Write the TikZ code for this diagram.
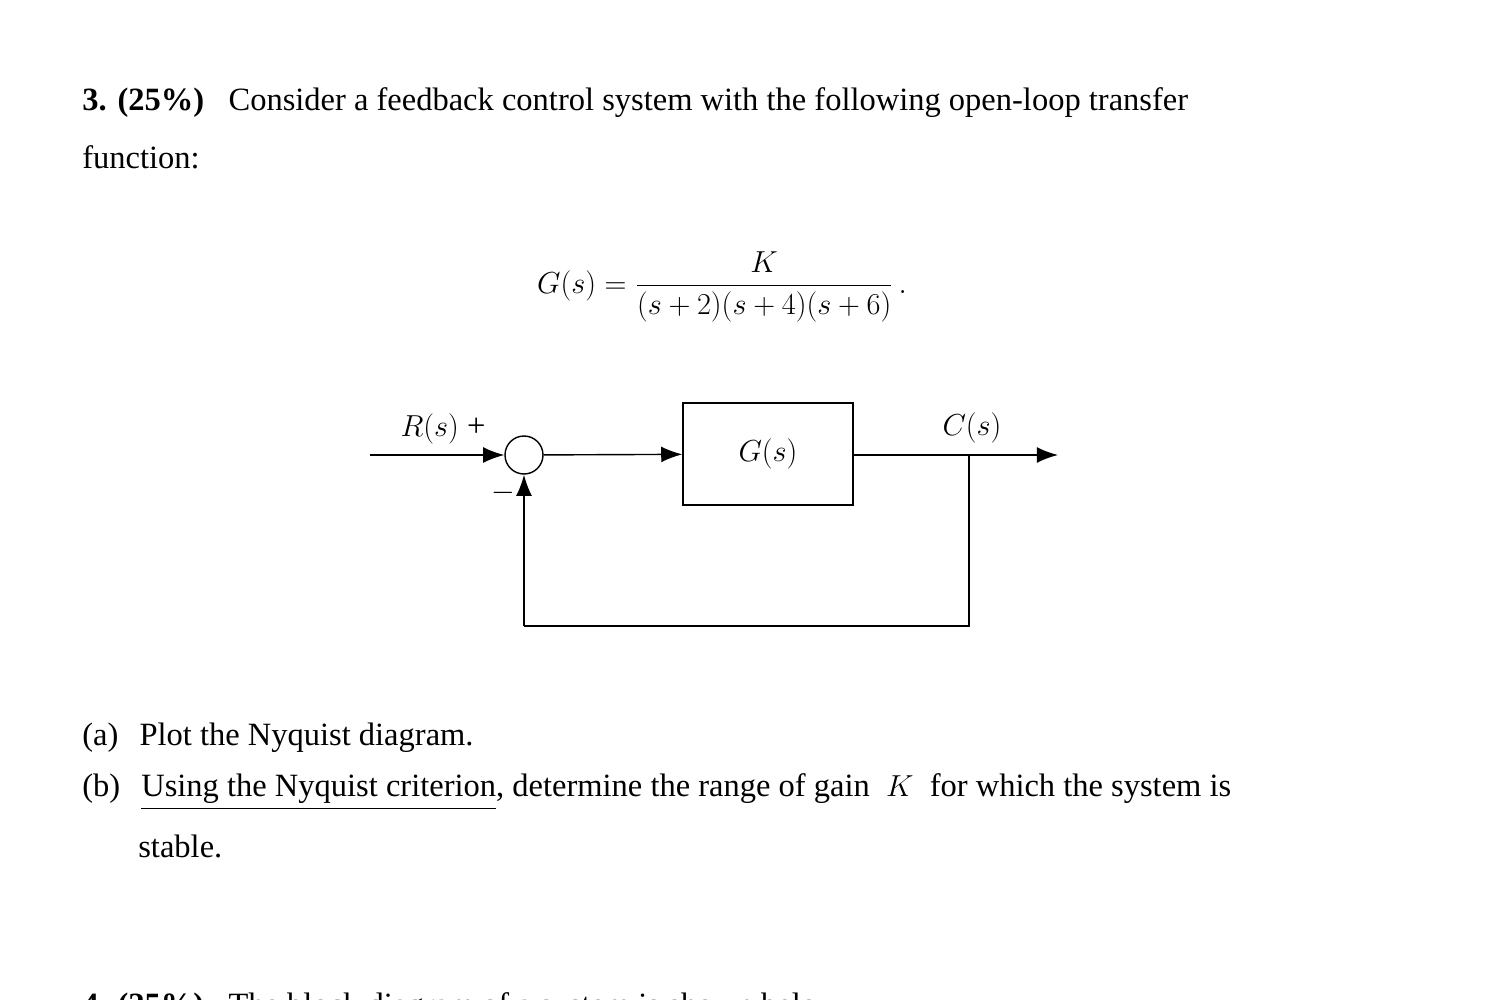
\documentclass[tikz,border=0pt]{standalone}
\usepackage{amsmath}
\usepackage{fontspec}
\setmainfont{Liberation Serif}
\usetikzlibrary{arrows.meta}
\begin{document}
\begin{tikzpicture}[x=0.02cm, y=-0.02cm, font=\fontsize{18.5}{22}\selectfont,
  line/.style={thick},
  arr/.style={thick, -{Latex[length=12pt,width=9pt]}}]
  \useasboundingbox (0,0) rectangle (1512,1000);
  \clip (0,0) rectangle (1512,1000);
  % question text
  \node[anchor=west, text width=25.68cm, align=justify, inner sep=0pt] (q) at (82,103)
    {\parfillskip=0pt\textbf{3. (25\%)}\hspace{0.5em} Consider a feedback control system with the following open-loop transfer};
  \node[anchor=west, inner sep=0pt] (q2) at (82,157) {function:};
  % transfer function
  \node (tf) at (722,287) {$G(s)=\dfrac{K}{(s+2)(s+4)(s+6)}\,.$};
  % block diagram
  \node[draw, thick, circle, minimum size=0.76cm, inner sep=0pt] (sum) at (524,455) {};
  \node[draw, thick, minimum width=3.4cm, minimum height=2.04cm] (G) at (768,454) {$G(s)$};
  \coordinate (in) at (370,455);
  \coordinate (out) at (1058,455);
  \coordinate (br) at (969,455);
  \coordinate (fb1) at (969,626);
  \coordinate (fb2) at (524,626);
  \draw[arr] (in) -- (sum);
  \draw[arr] (sum) -- (G);
  \draw[arr] (G.east |- br) -- (out);
  \draw[line] (br) -- (fb1) -- (fb2);
  \draw[arr] (fb2) -- (sum);
  \node (rlab) at (443,429) {$R(s)$ +};
  \node (minus) at (503,493) {$-$};
  \node (clab) at (972,428) {$C(s)$};
  % parts
  \node[anchor=west, inner sep=0pt] (pa) at (82,738) {(a)\hspace{0.4em} Plot the Nyquist diagram.};
  \node[anchor=west, text width=25.68cm, align=justify, inner sep=0pt] (pb) at (82,792)
    {\parfillskip=0pt(b)\hspace{0.4em} \underline{Using the Nyquist criterion}, determine the range of gain \ $K$ \ for which the system is};
  \node[anchor=west, inner sep=0pt] (pc) at (138,846) {stable.};
  \node[anchor=west, inner sep=0pt] (nx) at (82,1008) {\textbf{4. (25\%)}\hspace{0.5em} The block diagram of a system is shown below.};
\end{tikzpicture}
\end{document}
